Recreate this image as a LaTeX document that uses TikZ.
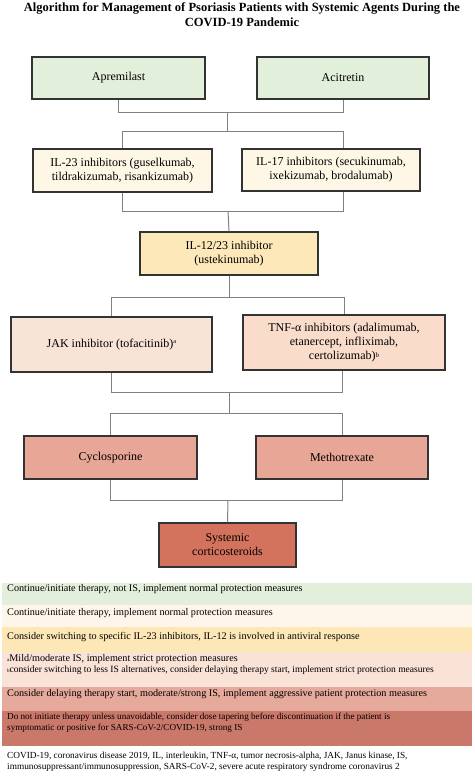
\documentclass[tikz,border=0pt]{standalone}
\usepackage{fontspec}
\setmainfont{Liberation Serif}
\usetikzlibrary{calc}
\definecolor{cgreen}{HTML}{E2EFDA}
\definecolor{ccream}{HTML}{FEF7E6}
\definecolor{cyellow}{HTML}{FCE8B8}
\definecolor{cjak}{HTML}{F8E3D7}
\definecolor{ctnf}{HTML}{FADCCB}
\definecolor{ccyc}{HTML}{E8A696}
\definecolor{ccor}{HTML}{D4735D}
\definecolor{bgreen}{HTML}{E3EEDB}
\definecolor{bcream}{HTML}{FEF6EA}
\definecolor{byellow}{HTML}{FDE7B7}
\definecolor{bpeach}{HTML}{F9E2D6}
\definecolor{bsalmon}{HTML}{E5AA9B}
\definecolor{bred}{HTML}{C9786A}
\definecolor{linegray}{HTML}{808080}
\definecolor{edge}{HTML}{333333}
\tikzset{
  boxnode/.style={draw=edge, line width=1.1pt, align=center, inner sep=2pt,
    font=\rmfamily\fontsize{12}{14}\selectfont},
  conn/.style={draw=linegray, line width=1pt},
  legtext/.style={anchor=west, align=left, inner sep=0pt,
    font=\rmfamily\fontsize{10.2}{11}\selectfont},
  smalltext/.style={legtext, font=\rmfamily\fontsize{9.3}{11}\selectfont}
}
\begin{document}
\begin{tikzpicture}[x=1pt,y=-1pt]
\useasboundingbox (0,0) rectangle (474,784);
\fill[white] (0,0) rectangle (474,784);

% title
\node[align=center, inner sep=0pt, font=\rmfamily\fontsize{12.5}{15}\bfseries\selectfont] (title) at (242,14.5)
  {Algorithm for Management of Psoriasis Patients with Systemic Agents During the\\COVID-19 Pandemic};

% boxes
\node[boxnode, fill=cgreen, minimum width=173pt, minimum height=42pt] (apr) at (118.5,78) {Apremilast};
\node[boxnode, fill=cgreen, minimum width=172pt, minimum height=42pt] (aci) at (343,78) {Acitretin};
\node[boxnode, fill=ccream, minimum width=179pt, minimum height=43pt] (il23) at (122.5,170.5) {IL-23 inhibitors (guselkumab,\\tildrakizumab, risankizumab)};
\node[boxnode, fill=ccream, minimum width=178pt, minimum height=42pt] (il17) at (331,170) {IL-17 inhibitors (secukinumab,\\ixekizumab, brodalumab)};
\node[boxnode, fill=cyellow, minimum width=178pt, minimum height=43pt] (il12) at (229,253.5) {IL-12/23 inhibitor\\(ustekinumab)};
\node[boxnode, fill=cjak, minimum width=201pt, minimum height=55pt] (jak) at (111.5,344.5) {JAK inhibitor (tofacitinib)\raisebox{4pt}{\fontsize{6.5}{6.5}\selectfont a}};
\node[boxnode, fill=ctnf, minimum width=202pt, minimum height=55pt] (tnf) at (344,342.5) {TNF-α inhibitors (adalimumab,\\etanercept, infliximab,\\certolizumab)\raisebox{2pt}{\fontsize{7}{7}\selectfont b}};
\node[boxnode, fill=ccyc, minimum width=173pt, minimum height=43pt] (cyc) at (110.5,457.5) {Cyclosporine};
\node[boxnode, fill=ccyc, minimum width=172pt, minimum height=43pt] (met) at (342,457.5) {Methotrexate};
\node[boxnode, fill=ccor, minimum width=137pt, minimum height=44pt] (cor) at (227.5,545) {Systemic\\corticosteroids};

% junctions
\coordinate (m1) at (227,112);
\coordinate (m2) at (227,131);
\coordinate (m3) at (228,211);
\coordinate (m4) at (229,297);
\coordinate (m5) at (229,392);
\coordinate (m6) at (229,413);
\coordinate (m7) at (228,500);

% connectors
\draw[conn] (apr.south) |- (m1);
\draw[conn] (aci.south) |- (m1);
\draw[conn] (m1) -- (m2);
\draw[conn] (m2) -| (il23.north);
\draw[conn] (m2) -| ($(il17.north)+(12,0)$);
\draw[conn] (il23.south) |- (m3);
\draw[conn] ($(il17.south)+(12,0)$) |- (m3);
\draw[conn] (m3) -- (il12.north);
\draw[conn] (il12.south) -- (m4);
\draw[conn] (m4) -| (jak.north);
\draw[conn] (m4) -| (tnf.north);
\draw[conn] (jak.south) |- (m5);
\draw[conn] ($(tnf.south)+(-2,0)$) |- (m5);
\draw[conn] (m5) -- (m6);
\draw[conn] (m6) -| (cyc.north);
\draw[conn] (m6) -| (met.north);
\draw[conn] (cyc.south) |- (m7);
\draw[conn] (met.south) |- (m7);
\draw[conn] (m7) -- (cor.north);

% legend bands
\fill[bgreen] (2,583) rectangle (472,605);
\fill[bcream] (2,605) rectangle (472,627);
\fill[byellow] (2,627) rectangle (472,652);
\fill[bpeach] (2,652) rectangle (472,687);
\fill[bsalmon] (2,687) rectangle (472,711);
\fill[bred] (2,711) rectangle (472,746);

\node[legtext] (l1) at (7,589) {Continue/initiate therapy, not IS, implement normal protection measures};
\node[legtext] (l2) at (7,613) {Continue/initiate therapy, implement normal protection measures};
\node[legtext] (l3) at (7,637) {Consider switching to specific IL-23 inhibitors, IL-12 is involved in antiviral response};
\node[legtext] (l4a) at (7,659) {{\fontsize{5}{5}\selectfont a}Mild/moderate IS, implement strict protection measures};
\node[smalltext, font=\rmfamily\fontsize{9.55}{11}\selectfont] (l4b) at (7,670) {{\fontsize{5}{5}\selectfont b}consider switching to less IS alternatives, consider delaying therapy start, implement strict protection measures};
\node[legtext] (l5) at (7,694) {Consider delaying therapy start, moderate/strong IS, implement aggressive patient protection measures};
\node[smalltext, font=\rmfamily\fontsize{9.15}{11}\selectfont] (l6) at (7,722.5) {Do not initiate therapy unless unavoidable, consider dose tapering before discontinuation if the patient is\\symptomatic or positive for SARS-CoV-2/COVID-19, strong IS};

% footnote
\node[smalltext] (fn) at (7,761.5) {COVID-19, coronavirus disease 2019, IL, interleukin, TNF-α, tumor necrosis-alpha, JAK, Janus kinase, IS,\\immunosuppressant/immunosuppression, SARS-CoV-2, severe acute respiratory syndrome coronavirus 2};
\end{tikzpicture}
\end{document}
